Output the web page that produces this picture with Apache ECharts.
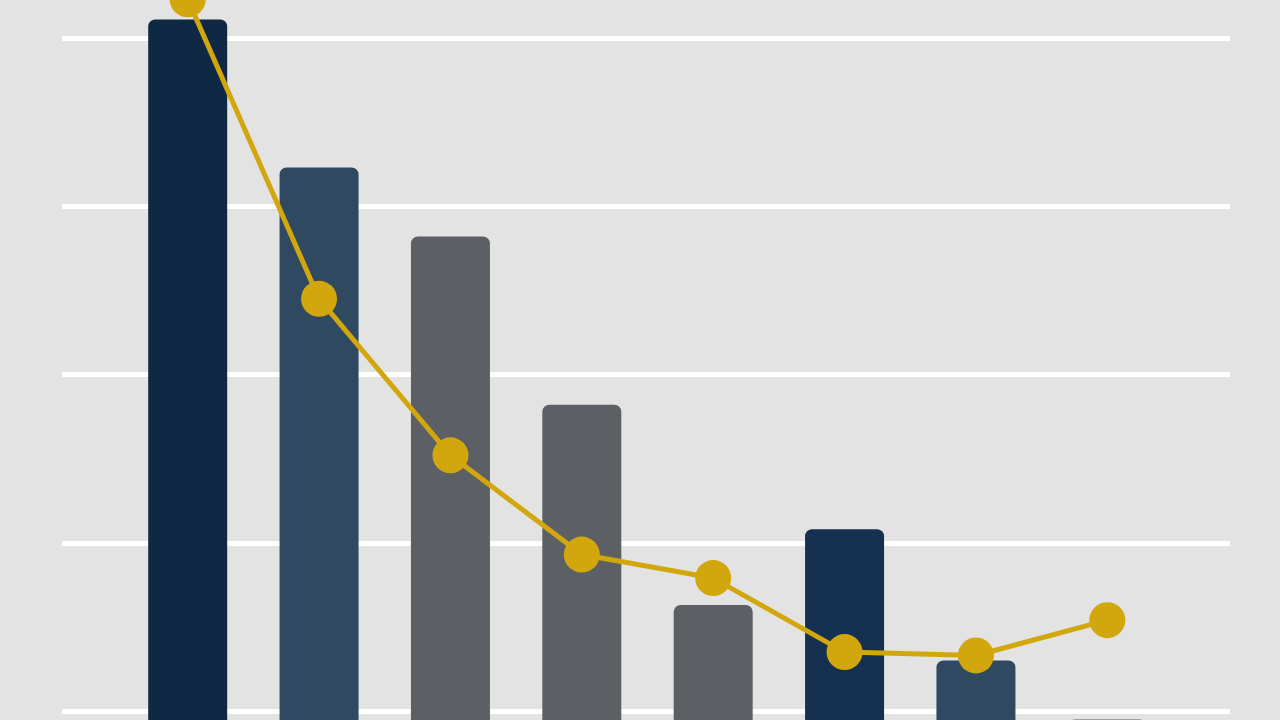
<!DOCTYPE html>
<html>
<head>
	<meta charset="utf-8">
	<script src="https://cdn.jsdelivr.net/npm/echarts@6/dist/echarts.min.js"></script>
	<style>
		html, body { margin: 0; padding: 0; background: #e3e3e3; }
		#c { width: 1280px; height: 720px; }
	</style>
</head>
<body>
	<div id="c"></div>
	<script>
		var categories = ['A', 'B', 'C', 'D', 'E', 'F', 'G', 'H'];
		var barValues = [51.1, 42.3, 38.2, 28.2, 16.3, 20.8, 13.0, 9.5];
		var lineValues = [52.3, 34.5, 25.2, 19.3, 17.9, 13.5, 13.3, 15.4];
		var barColors = ['#0f2843', '#2f4960', '#5c6064', '#5c6064', '#5c6064', '#15314f', '#2f4960', '#5c6064'];

		var chart = echarts.init(document.getElementById('c'));
		var bars = [];
		for (var i = 0; i < barValues.length; i++) {
			bars.push({ value: barValues[i], itemStyle: { color: barColors[i] } });
		}
		// axis runs 10..50, 0 lies below the picture so bars run off the bottom
		var yCommon = { type: 'value', min: 10, max: 50, interval: 10, axisLabel: { show: false }, axisLine: { show: false }, axisTick: { show: false } };
		var option = {
			backgroundColor: '#e3e3e3',
			animation: false,
			grid: [
				{ left: 62, right: 50, top: 38, bottom: 9 },
				{ left: 122, right: 107, top: 38, bottom: 9 }
			],
			xAxis: [
				{ type: 'category', gridIndex: 0, data: categories, show: false },
				{ type: 'category', gridIndex: 1, data: categories, show: false }
			],
			yAxis: [
				Object.assign({ gridIndex: 0, splitLine: { lineStyle: { color: '#ffffff', width: 5 } } }, yCommon),
				Object.assign({ gridIndex: 1, splitLine: { show: false } }, yCommon)
			],
			series: [
				{
					type: 'bar',
					xAxisIndex: 1,
					yAxisIndex: 1,
					data: bars,
					barWidth: 79,
					clip: false,
					itemStyle: { borderRadius: [7, 7, 0, 0] }
				},
				{
					type: 'line',
					xAxisIndex: 1,
					yAxisIndex: 1,
					data: lineValues,
					clip: false,
					symbol: 'circle',
					symbolSize: 36,
					lineStyle: { color: '#d2a70d', width: 5 },
					itemStyle: { color: '#d2a70d' }
				}
			]
		};
		chart.setOption(option);
	</script>
</body>
</html>
